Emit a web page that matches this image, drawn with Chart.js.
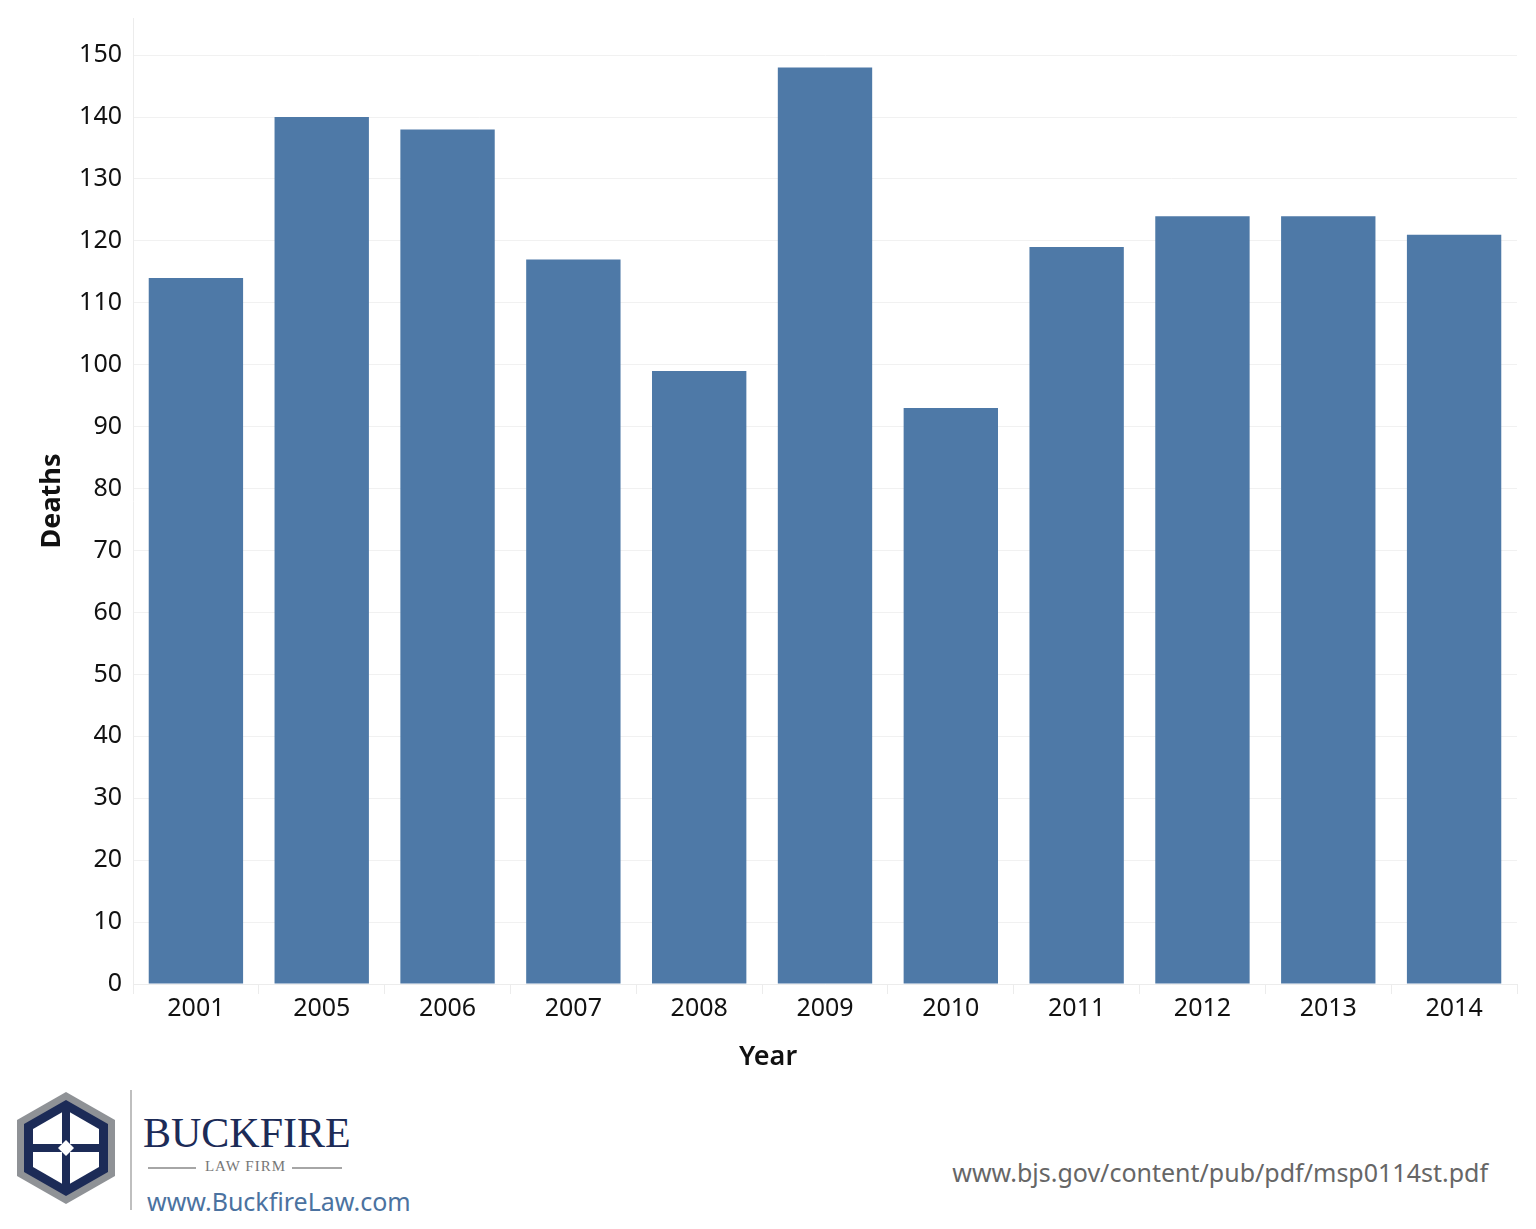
<!DOCTYPE html>
<html>
<head>
<meta charset="utf-8">
<script src="https://cdn.jsdelivr.net/npm/chart.js@4/dist/chart.umd.min.js"></script>
<style>
  html, body { margin: 0; padding: 0; background: #fff; }
  body { width: 1536px; height: 1229px; position: relative; overflow: hidden; font-family: "Noto Sans", sans-serif; }
  #wrap { position: absolute; left: 0; top: 0; width: 1536px; height: 1080px; }
  #logo { position: absolute; left: 0; top: 1085px; }
  .brand { position: absolute; left: 143px; top: 1112px; font-family: "Liberation Serif", serif; font-size: 42px; color: #1c2b57; line-height: 1; }
  .firm { position: absolute; left: 143px; top: 1158px; width: 205px; text-align: center; font-family: "Liberation Serif", serif; font-size: 15px; color: #777; letter-spacing: 1px; }
  .site { position: absolute; left: 147px; top: 1184px; font-size: 25px; color: #4b72a0; }
  .source { position: absolute; right: 48px; top: 1155px; font-size: 25px; color: #666; }
</style>
</head>
<body>
<div id="wrap"><canvas id="myChart"></canvas></div>

<svg id="logo" width="360" height="140">
  <polygon points="66,7 115,35 115,91 66,119 17,91 17,35" fill="#8f9296"/>
  <polygon points="66,15 108,39 108,87 66,111 24,87 24,39" fill="#1c2b57"/>
  <polygon points="66,25 99,44 99,82 66,101 33,82 33,44" fill="#fff"/>
  <rect x="62" y="20" width="8" height="86" fill="#1c2b57"/>
  <rect x="28" y="59" width="76" height="8" fill="#1c2b57"/>
  <polygon points="66,55 74,63 66,71 58,63" fill="#fff"/>
  <line x1="131" y1="5" x2="131" y2="125" stroke="#aaa" stroke-width="1.5"/>
  <line x1="148" y1="83" x2="196" y2="83" stroke="#888" stroke-width="1.5"/>
  <line x1="292" y1="83" x2="342" y2="83" stroke="#888" stroke-width="1.5"/>
</svg>
<div class="brand">BUCKFIRE</div>
<div class="firm">LAW FIRM</div>
<div class="site">www.BuckfireLaw.com</div>
<div class="source">www.bjs.gov/content/pub/pdf/msp0114st.pdf</div>

<script>
const years = ['2001', '2005', '2006', '2007', '2008', '2009', '2010', '2011', '2012', '2013', '2014'];
const deaths = [114, 140, 138, 117, 99, 148, 93, 119, 124, 124, 121];
const yTicks = [0, 10, 20, 30, 40, 50, 60, 70, 80, 90, 100, 110, 120, 130, 140, 150];

// x axis title is centred on the whole picture, not on the plot
const xTitle = {
    id: 'xTitle',
    afterDraw(chart) {
        const c = chart.ctx;
        c.save();
        c.font = '600 27px "Noto Sans"';
        c.fillStyle = '#111';
        c.textAlign = 'center';
        c.textBaseline = 'middle';
        c.fillText('Year', 768, 1057);
        c.restore();
    }
};

document.addEventListener('DOMContentLoaded', () => {
    const ctx = document.getElementById('myChart').getContext('2d');
    new Chart(ctx, {
        type: 'bar',
        data: {
            labels: years,
            datasets: [{
                label: 'Deaths',
                data: deaths,
                backgroundColor: '#4e79a7',
                barPercentage: 0.75,
                categoryPercentage: 1
            }]
        },
        plugins: [xTitle],
        options: {
            responsive: true,
            maintainAspectRatio: false,
            animation: false,
            layout: { padding: { top: 18, right: 19, bottom: 56, left: 0 } },
            plugins: {
                legend: { display: false },
                tooltip: { enabled: false }
            },
            scales: {
                x: {
                    afterFit: (scale) => { scale.height = 40; },
                    grid: {
                        offset: true,
                        drawOnChartArea: false,
                        tickLength: 10,
                        color: '#ececec'
                    },
                    border: { color: '#ececec' },
                    ticks: {
                        color: '#111',
                        font: { family: 'Noto Sans', size: 25 },
                        padding: 0
                    }
                },
                y: {
                    min: 0,
                    max: 156,
                    afterFit: (scale) => {
                        scale.width = 133;
                        scale.paddingTop = 0;
                        scale.paddingBottom = 0;
                    },
                    afterBuildTicks: (scale) => {
                        scale.ticks = yTicks.map(v => ({ value: v }));
                    },
                    grid: {
                        color: '#f1f1f1',
                        drawTicks: false
                    },
                    border: { color: '#ececec' },
                    ticks: {
                        color: '#111',
                        font: { family: 'Noto Sans', size: 25 },
                        padding: 11
                    },
                    title: {
                        display: true,
                        text: 'Deaths',
                        color: '#111',
                        font: { family: 'Noto Sans', size: 27, weight: 'bold' },
                        padding: { top: 36, bottom: 0 }
                    }
                }
            }
        }
    });
});
</script>
</body>
</html>
